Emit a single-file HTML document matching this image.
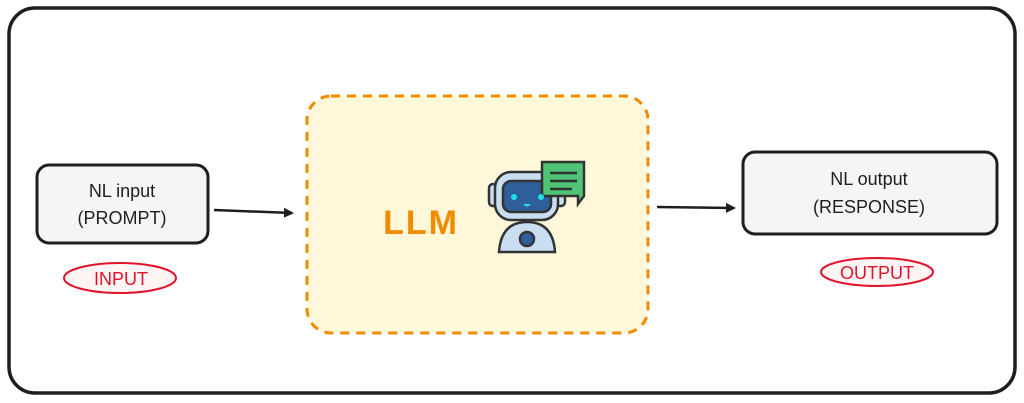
<!DOCTYPE html>
<html><head><meta charset="utf-8"><style>
html,body{margin:0;padding:0;background:#fff;width:1024px;height:403px;overflow:hidden}
svg{display:block}
text{font-family:"Liberation Sans",sans-serif}
</style></head><body>
<svg width="1024" height="403" viewBox="0 0 1024 403" xmlns="http://www.w3.org/2000/svg">
<defs><marker id="ah" markerWidth="10" markerHeight="10" refX="8" refY="5" orient="auto" markerUnits="userSpaceOnUse"><path d="M0,0 L10,5 L0,10 z" fill="#1e1e1e"/></marker></defs>
<rect x="9" y="8" width="1006" height="385" rx="26" fill="#fff" stroke="#1e1e1e" stroke-width="3.5"/>
<rect x="37" y="165" width="171" height="78" rx="12" fill="#f4f5f7" stroke="#1e1e1e" stroke-width="3"/>
<text x="122" y="197" font-size="18" text-anchor="middle" fill="#1e1e1e">NL input</text>
<text x="122" y="224" font-size="18" text-anchor="middle" fill="#1e1e1e">(PROMPT)</text>
<line x1="214" y1="210" x2="292" y2="213" stroke="#1e1e1e" stroke-width="2.5" marker-end="url(#ah)"/>
<ellipse cx="120" cy="278" rx="56" ry="15" fill="#fff5f5" stroke="#e0132b" stroke-width="2"/>
<text x="121" y="285" font-size="18" text-anchor="middle" fill="#e0132b">INPUT</text>
<rect x="307" y="96" width="341" height="237" rx="24" fill="#fff7d9" stroke="#f08c00" stroke-width="3" stroke-dasharray="9 7"/>
<text x="421" y="234" font-size="34" text-anchor="middle" fill="#f08c00" font-weight="bold" letter-spacing="2">LLM</text>
<g stroke="#333" stroke-width="2.5">
<rect x="489" y="184" width="9" height="22" rx="4" fill="#c9def0"/>
<rect x="556" y="184" width="9" height="22" rx="4" fill="#c9def0"/>
<path d="M499,252 Q501,222 527,222 Q553,222 555,252 Z" fill="#c9def0"/>
<circle cx="527" cy="239" r="7" fill="#2f5f9a"/>
<rect x="495" y="172" width="63" height="48" rx="16" fill="#c9def0"/>
<rect x="503" y="181" width="48" height="31" rx="8" fill="#2f5f9a"/>
<path d="M542,162 H584 V196 L578,204 V196 H542 Z" fill="#4fc476"/>
</g>
<circle cx="514" cy="197" r="3" fill="#1ee0e8"/><circle cx="541" cy="197" r="3" fill="#1ee0e8"/>
<path d="M523,204 Q527,209 531,204" fill="#1ee0e8"/>
<g stroke="#333" stroke-width="2.5"><line x1="550" y1="173" x2="577" y2="173"/><line x1="550" y1="181" x2="577" y2="181"/><line x1="550" y1="189" x2="572" y2="189"/></g>
<line x1="657" y1="207" x2="734" y2="208" stroke="#1e1e1e" stroke-width="2.5" marker-end="url(#ah)"/>
<rect x="743" y="152" width="254" height="82" rx="12" fill="#f4f5f7" stroke="#1e1e1e" stroke-width="3"/>
<text x="869" y="185" font-size="18" text-anchor="middle" fill="#1e1e1e">NL output</text>
<text x="869" y="213" font-size="18" text-anchor="middle" fill="#1e1e1e">(RESPONSE)</text>
<ellipse cx="877" cy="272" rx="56" ry="14" fill="#fff5f5" stroke="#e0132b" stroke-width="2"/>
<text x="877" y="279" font-size="18" text-anchor="middle" fill="#e0132b">OUTPUT</text>
</svg>
</body></html>
